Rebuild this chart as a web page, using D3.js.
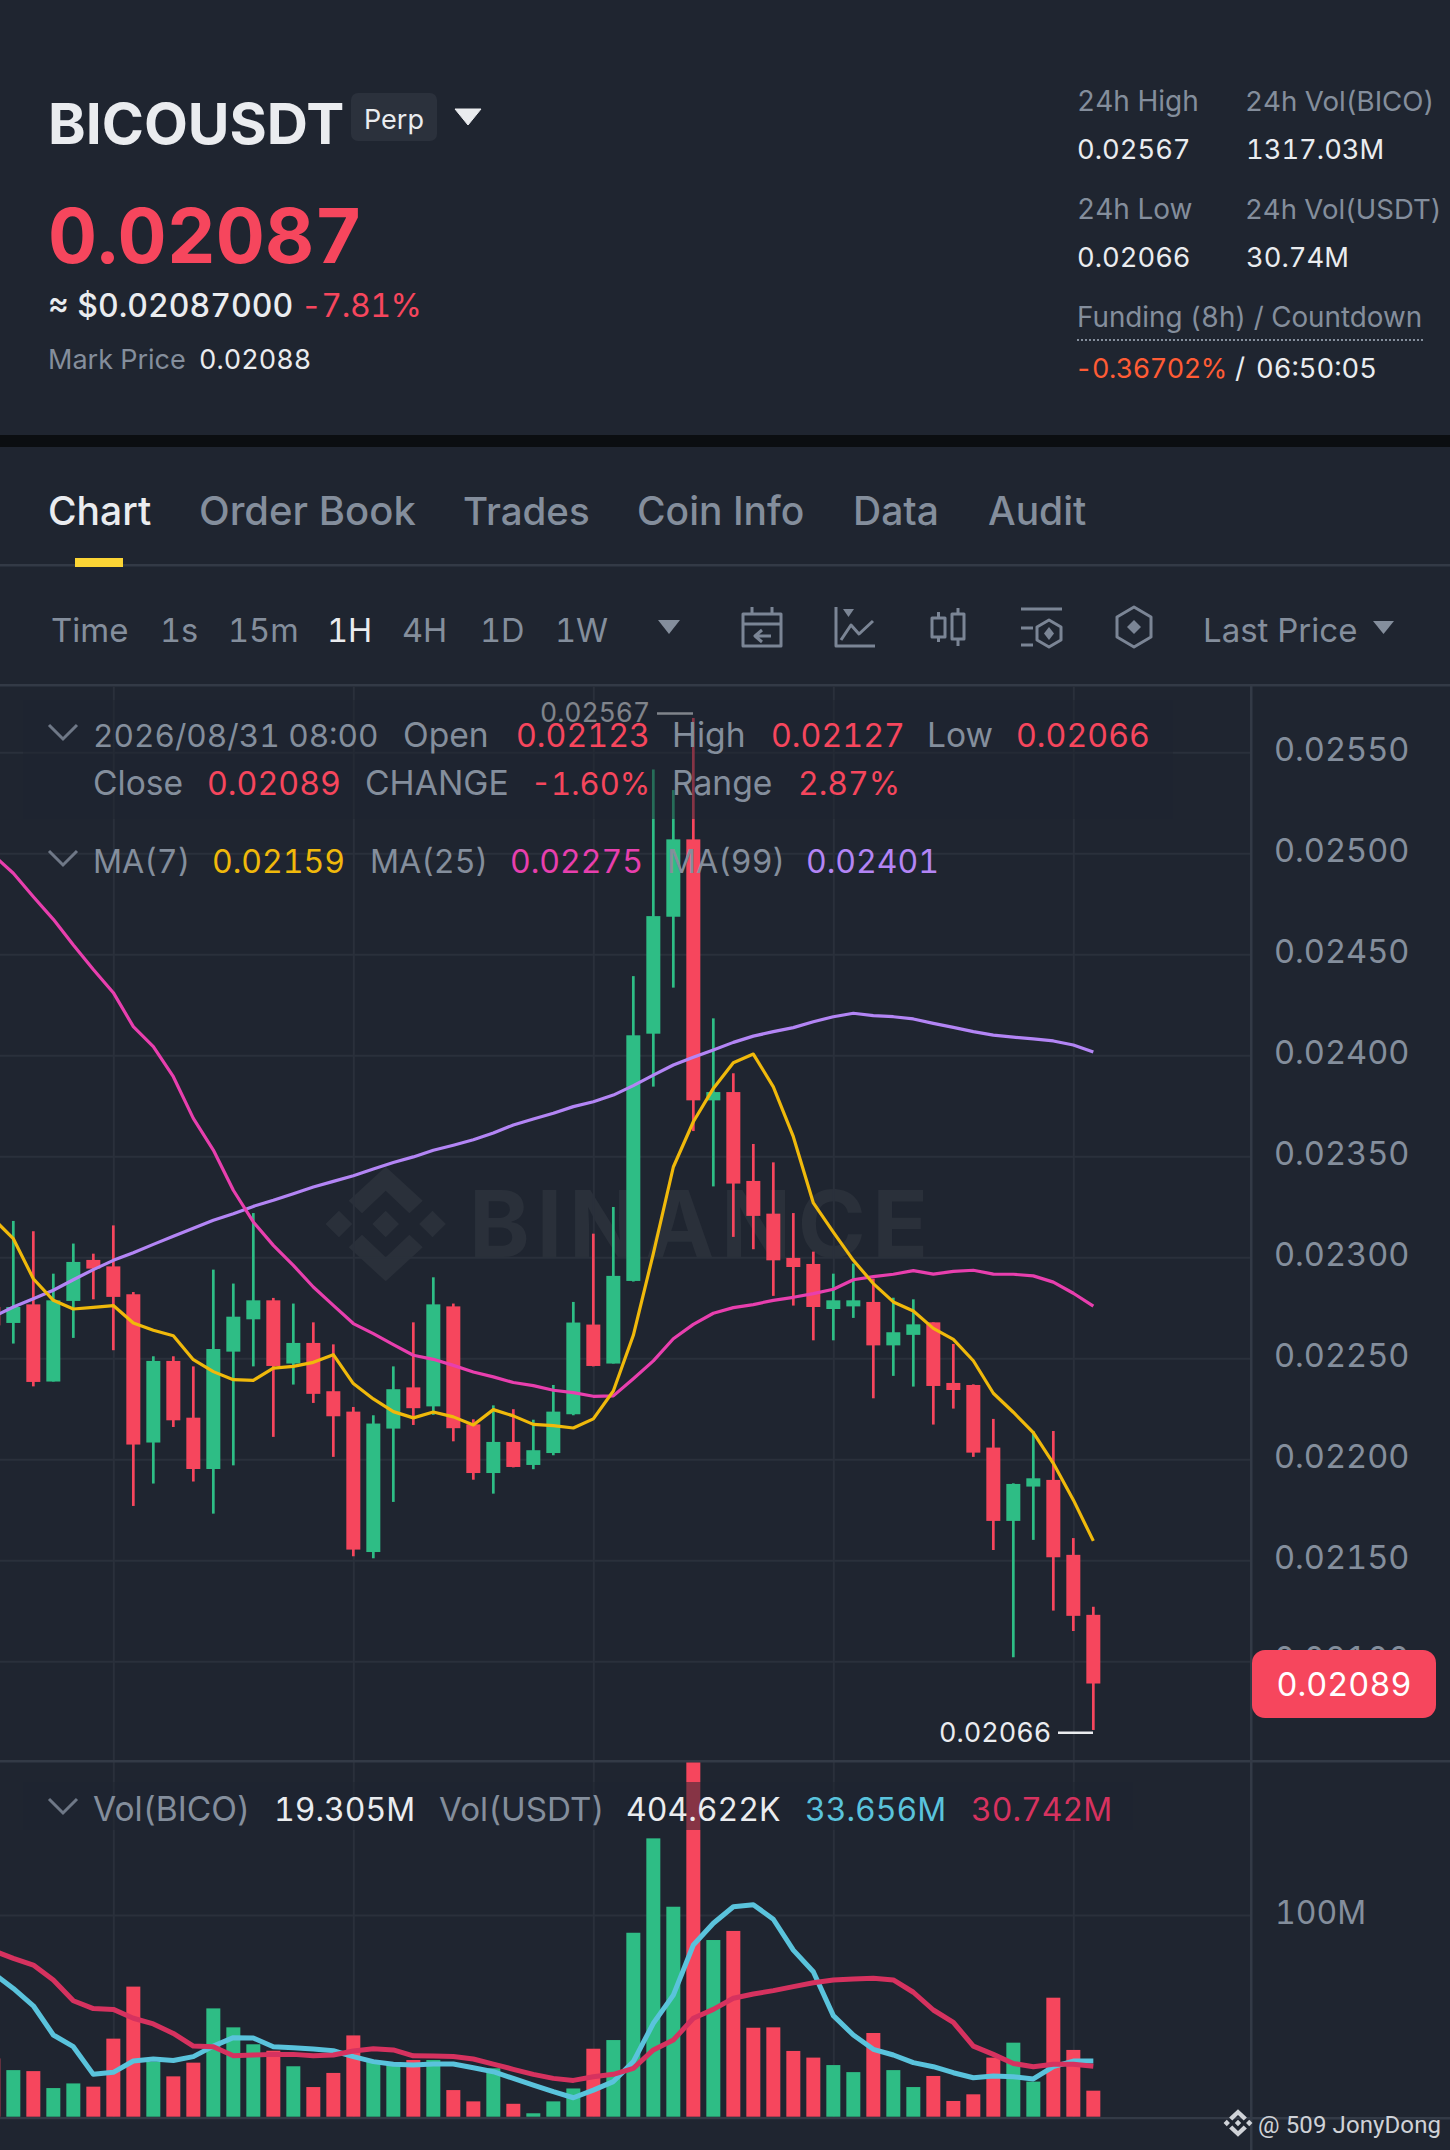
<!DOCTYPE html>
<html>
<head>
<meta charset="utf-8">
<title>BICOUSDT</title>
<script src="https://cdn.jsdelivr.net/npm/d3@7"></script>
<style>
  html, body { margin: 0; padding: 0; background: #1f2530; overflow: hidden; }
  svg { display: block; font-family: Inter, "Open Sans", sans-serif; font-variant-numeric: tabular-nums; }
</style>
</head>
<body>
<div id="chart"></div>
<script>
// candles, oldest first. the first one is cut off by the left edge of the picture
const opens = [0.022754,0.022675,0.022767,0.022385,0.022784,0.022987,0.022955,0.022817,0.022083,0.022487,0.022206,0.021952,0.022533,0.022693,0.022787,0.022474,0.022576,0.022337,0.022236,0.021541,0.022152,0.022356,0.022262,0.022757,0.022173,0.021932,0.022086,0.021972,0.022031,0.022223,0.022667,0.022474,0.022883,0.024107,0.024686,0.025069,0.023777,0.023818,0.023378,0.023216,0.022997,0.022967,0.022744,0.022757,0.022779,0.022564,0.022616,0.022678,0.022378,0.022368,0.022058,0.021695,0.021865,0.021898,0.021527,0.02123];
const highs = [0.022757,0.02318,0.023129,0.022919,0.023068,0.023018,0.023158,0.022828,0.02251,0.02251,0.02246,0.022939,0.02287,0.023219,0.022799,0.022771,0.022678,0.022569,0.022259,0.022218,0.02246,0.022678,0.022901,0.022771,0.022198,0.022267,0.022248,0.022196,0.022368,0.022779,0.023117,0.023249,0.024392,0.025415,0.025313,0.02567,0.024183,0.023911,0.023561,0.02347,0.023219,0.023028,0.022919,0.022969,0.022894,0.0228,0.022792,0.022678,0.022571,0.022371,0.0222,0.021881,0.02214,0.02214,0.02161,0.02127];
const lows = [0.02266,0.022573,0.022361,0.022385,0.022601,0.022792,0.02254,0.021769,0.02188,0.02216,0.02189,0.021731,0.02197,0.02246,0.022111,0.02237,0.022279,0.022012,0.02152,0.02151,0.021789,0.02217,0.02222,0.022089,0.021899,0.02183,0.02196,0.021951,0.02202,0.022218,0.02246,0.022474,0.02288,0.023845,0.024335,0.023625,0.023351,0.023101,0.02304,0.022809,0.022761,0.022589,0.022589,0.0227,0.022302,0.022413,0.02236,0.022172,0.022251,0.022012,0.021551,0.02102,0.021601,0.021251,0.02115,0.02066];
const closes = [0.022663,0.022754,0.022383,0.022787,0.022977,0.022944,0.022804,0.022073,0.022487,0.022193,0.021952,0.022546,0.022706,0.022787,0.022462,0.022576,0.022324,0.022213,0.021553,0.022177,0.022347,0.022253,0.022767,0.022154,0.021932,0.022086,0.021962,0.022045,0.022236,0.022677,0.022462,0.022908,0.024099,0.024689,0.025069,0.023777,0.023818,0.023365,0.023205,0.022985,0.022952,0.022754,0.022787,0.022787,0.022564,0.022629,0.022668,0.022363,0.022343,0.022033,0.021695,0.021878,0.021906,0.021515,0.021225,0.02089];

// moving averages
const ma7 = [0.023191,0.023092,0.022894,0.022787,0.022744,0.022752,0.022761,0.022675,0.022639,0.022612,0.022493,0.022434,0.022394,0.022391,0.022451,0.02246,0.02248,0.022518,0.022375,0.022299,0.022236,0.022205,0.022234,0.02221,0.02217,0.022246,0.022215,0.022173,0.022167,0.022155,0.0222,0.022338,0.022614,0.023018,0.023447,0.023671,0.023836,0.023963,0.024006,0.023844,0.023597,0.023269,0.023125,0.022985,0.02287,0.022779,0.022734,0.022648,0.022594,0.022488,0.022327,0.022233,0.022132,0.02198,0.021799,0.021596];
const ma25 = [0.024991,0.024901,0.024785,0.024673,0.024546,0.024425,0.02431,0.024142,0.024043,0.023894,0.023688,0.023531,0.023332,0.023175,0.023059,0.02296,0.022853,0.022762,0.022672,0.022622,0.022568,0.022515,0.022495,0.022465,0.022432,0.022408,0.02238,0.022365,0.022342,0.02233,0.022312,0.022314,0.022399,0.022487,0.022597,0.022668,0.022723,0.022751,0.022766,0.022787,0.022802,0.02282,0.022842,0.022889,0.022904,0.022916,0.022934,0.022917,0.02293,0.022936,0.022917,0.022916,0.022908,0.022877,0.022822,0.022758];
const ma99 = [0.022705,0.022754,0.022795,0.022837,0.022889,0.022939,0.022985,0.023023,0.023064,0.023104,0.023144,0.023183,0.023216,0.023252,0.023282,0.023315,0.023348,0.023376,0.023404,0.023437,0.023469,0.023497,0.02353,0.023555,0.023582,0.023615,0.023655,0.023685,0.023713,0.023746,0.02377,0.023803,0.02385,0.023902,0.023952,0.02399,0.024026,0.024064,0.024095,0.024117,0.024137,0.024166,0.024191,0.024208,0.024196,0.024191,0.02418,0.024158,0.024138,0.024117,0.0241,0.02409,0.024081,0.024071,0.024051,0.024016];

// volume in millions
const volumes = [28.9,23.1,22.6,14.2,16.5,14.9,38.7,64.5,27.3,20,26.8,53.7,44.3,35.9,32.7,25,14.7,21.7,40.3,27.3,25.6,28.1,28.1,13.2,7.6,24,6.4,1.7,7.6,14,33.7,38,91.2,138,104.1,176,87.6,92.1,44.1,44.3,32.6,29.3,25.6,22.1,41.5,23.1,14.7,20.2,7.8,11.1,29.3,36.7,17.4,59,33.1,12.9];
const volMaFast = [71.1,63.6,55,40.5,34.7,21,22,27.6,28.6,27.9,29.8,35,39.2,39,34.7,34.2,33.6,32.7,29.8,27.3,26,25.6,26.1,26.1,24.3,22.3,19,15.7,12.4,9.4,13.2,17.4,27.3,46.3,60.3,85.1,95.9,104.1,105.1,97.9,82.6,71.9,50.1,40.5,33.4,30.6,26.8,24.8,21.8,19.3,20.2,19.8,18.7,24.8,27.6,27.6];
const volMaSlow = [82.3,78.5,75.2,67.8,57.5,53.6,53.2,48.8,46,41.3,35,34.7,30.2,30.6,30.9,30.9,30.2,30.6,32.6,33.7,33.1,30.2,30.1,29.8,28.6,26.1,23.5,21,19,18,19.8,21,24,33.1,38,48.8,53.2,58.7,60.8,62.5,64.5,66.4,67.8,68.3,68.6,67.8,61.7,52.9,46.8,35,30.9,26.4,24.8,26,26,25];

// axis ticks
const priceTicks = [0.0255,0.025,0.0245,0.024,0.0235,0.023,0.0225,0.022,0.0215,0.021];
const volTicks = [100];
const timeGrid = [6,18,30,42,54]; // candle positions that carry a vertical line

const green = "#2ebd85", red = "#f6465d", grey = "#848e9c", white = "#eaecef";
const bg = "#1f2530", sep = "#333a46", gridCol = "#2a303b", mark = "#2a303a";
const yellow = "#f0b90b", pink = "#e83fae", purple = "#b385f5";
const volBlue = "#5ac3dc", volRed = "#d6325f";

const svg = d3.select("#chart").append("svg").attr("width", 1450).attr("height", 2150);
svg.append("rect").attr("width", 1450).attr("height", 2150).attr("fill", bg);

const x = d3.scaleLinear().domain([0, 55]).range([-6.67, 1093.33]);
const y = d3.scaleLinear().domain([0.023, 0.0215]).range([1257.3, 1560.3]);
const yVol = d3.scaleLinear().domain([0, 100]).range([2116.7, 1915]);
const idx = d3.range(opens.length);

function label(px, py, str, size, col, weight, anchor) {
  return svg.append("text").attr("x", px).attr("y", py).text(str)
    .attr("font-size", size).attr("fill", col)
    .attr("font-weight", weight || 400)
    .attr("text-anchor", anchor || "start");
}

// black bar between the header and the chart card
svg.append("rect").attr("y", 435).attr("width", 1450).attr("height", 12).attr("fill", "#0b0e11");

// header
label(48, 144, "BICOUSDT", 57, white, 700);
svg.append("rect").attr("x", 351).attr("y", 93).attr("width", 86).attr("height", 48).attr("rx", 7).attr("fill", "#2b313c");
label(394, 129, "Perp", 27, white, 400, "middle");
svg.append("path").attr("d", "M455,109H481L468,125Z").attr("fill", white).attr("stroke", white).attr("stroke-width", 1).attr("stroke-linejoin", "round");
label(48, 263, "0.02087", 76, red, 700);
label(48, 317, "≈ $0.02087000", 32, white, 500);
label(301, 317, "-7.81%", 32, red, 400).attr("letter-spacing", -0.4);
label(48, 369, "Mark Price", 27, grey, 400);
label(199, 369, "0.02088", 27, white, 400);

label(1077, 111, "24h High", 28, grey);
label(1245, 111, "24h Vol(BICO)", 27.7, grey);
label(1077, 159, "0.02567", 27.3, white);
label(1246, 159, "1317.03M", 27.3, white);
label(1077, 219, "24h Low", 28, grey);
label(1245, 219, "24h Vol(USDT)", 27.5, grey);
label(1077, 267, "0.02066", 27.3, white);
label(1246, 267, "30.74M", 27.3, white);
label(1077, 327, "Funding (8h) / Countdown", 27.8, grey);
svg.append("line").attr("x1", 1077).attr("x2", 1423).attr("y1", 340).attr("y2", 340)
  .attr("stroke", grey).attr("stroke-width", 2).attr("stroke-dasharray", "2 2");
label(1075, 378, "-0.36702%", 27, "#ff5c35").attr("letter-spacing", -0.5);
label(1235, 378, "/", 28, white);
label(1256, 378, "06:50:05", 27.3, white);

// tabs
label(48, 525, "Chart", 39, white, 500);
label(199, 525, "Order Book", 40, grey, 500);
label(463, 525, "Trades", 38.5, grey, 500);
label(637, 525, "Coin Info", 39, grey, 500);
label(853, 525, "Data", 39, grey, 500);
label(988, 525, "Audit", 39, grey, 500);
svg.append("rect").attr("y", 564).attr("width", 1450).attr("height", 2.5).attr("fill", sep);
svg.append("rect").attr("x", 75).attr("y", 558).attr("width", 48).attr("height", 9).attr("fill", "#fcd535");

// toolbar
label(51, 642, "Time", 33, grey);
label(160, 642, "1s", 32.5, grey);
label(228, 642, "15m", 32.5, grey);
label(327, 642, "1H", 32.5, white);
label(402, 642, "4H", 32.5, grey);
label(480, 642, "1D", 32.5, grey);
label(555, 642, "1W", 32.5, grey);
svg.append("path").attr("d", "M658,620H680L669,634Z").attr("fill", grey);
label(1203, 642, "Last Price", 33, grey);
svg.append("path").attr("d", "M1373,621H1394L1383.5,634Z").attr("fill", grey);

const icons = svg.append("g").attr("fill", "none").attr("stroke", "#7b8595").attr("stroke-width", 3).attr("stroke-linejoin", "round");
// calendar
icons.append("path").attr("d", "M743,614H781V646H743ZM743,624H781M752,607V614M772,607V614M771,636H756M762,630L755,636L762,642");
// line chart
icons.append("path").attr("d", "M836,607V646H875M841,640L851,625L859,634L873,621");
icons.append("path").attr("d", "M843,609H854L848.5,617Z").attr("fill", "#7b8595").attr("stroke", "none");
// candles
icons.append("path").attr("d", "M932,618H945V637H932ZM938.5,612V618M938.5,637V642M952,614H964V639H952ZM958,608V614M958,639V646");
// list with hexagon
icons.append("path").attr("d", "M1021,609H1062M1021,628H1033M1021,645H1033M1049,620L1061,627V640L1049,647L1037,640V627Z");
icons.append("path").attr("d", "M1049,627L1054,633.5L1049,640L1044,633.5Z").attr("fill", "#7b8595").attr("stroke", "none");
// hexagon
icons.append("path").attr("d", "M1134,607L1151,617V637L1134,647L1117,637V617Z");
icons.append("path").attr("d", "M1134,620L1141,627L1134,634L1127,627Z").attr("fill", "#7b8595").attr("stroke", "none");

svg.append("rect").attr("y", 684).attr("width", 1450).attr("height", 2.5).attr("fill", sep);

// five diamond logo, used for the big and the small watermark
function logo(cx, cy, k, col) {
  const g = svg.append("g").attr("transform", `translate(${cx},${cy}) scale(${k})`).attr("fill", col);
  const diamond = (dx) => `M${dx},-13.3L${dx + 13.3},0L${dx},13.3L${dx - 13.3},0Z`;
  g.append("path").attr("d", diamond(0) + diamond(-46.8) + diamond(46.8));
  g.append("path").attr("d", "M0,-57.3L37,-23.3L23.7,-10.7L0,-33.3L-23.7,-10.7L-37,-23.3Z");
  g.append("path").attr("d", "M0,57.3L37,23.3L23.7,10.7L0,33.3L-23.7,10.7L-37,23.3Z");
}

// grid and axis labels
logo(385.7, 1224, 1, mark);
label(469, 1257, "BINANCE", 92, mark, 700).attr("letter-spacing", 6.6);

const priceAxis = d3.axisRight(y).tickValues(priceTicks).tickFormat(d3.format(".5f")).tickSize(1250).tickPadding(24);
const gPrice = svg.append("g").call(priceAxis);
gPrice.select(".domain").remove();
gPrice.selectAll("line").attr("stroke", gridCol).attr("stroke-width", 2);
gPrice.selectAll("text").attr("fill", grey).attr("font-size", 32.6).attr("font-family", "Inter").attr("dy", 8);

const volAxis = d3.axisRight(yVol).tickValues(volTicks).tickFormat(d => d + "M").tickSize(1250).tickPadding(25);
const gVol = svg.append("g").call(volAxis);
gVol.select(".domain").remove();
gVol.selectAll("line").attr("stroke", gridCol).attr("stroke-width", 2);
gVol.selectAll("text").attr("fill", grey).attr("font-size", 32).attr("font-family", "Inter").attr("dy", 8);

const timeAxis = d3.axisBottom(x).tickValues(timeGrid).tickFormat("").tickSize(1431);
const gTime = svg.append("g").attr("transform", "translate(0,686)").call(timeAxis);
gTime.select(".domain").remove();
gTime.selectAll("line").attr("stroke", gridCol).attr("stroke-width", 2);

// panel frame
svg.append("rect").attr("y", 1760).attr("width", 1450).attr("height", 2.5).attr("fill", sep);
svg.append("rect").attr("y", 2117).attr("width", 1450).attr("height", 2.5).attr("fill", sep);
svg.append("rect").attr("x", 1250).attr("y", 686).attr("width", 2.5).attr("height", 1464).attr("fill", sep);
svg.append("rect").attr("y", 2119.5).attr("width", 1250).attr("height", 30.5).attr("fill", bg);

svg.append("clipPath").attr("id", "volClip").append("rect").attr("x", 0).attr("y", 1762.5).attr("width", 1250).attr("height", 354.5);

// candles
const isUp = i => closes[i] >= opens[i];
const candles = svg.append("g");
candles.selectAll(".wick").data(idx).join("rect").attr("class", "wick")
  .attr("x", i => x(i) - 1.35).attr("width", 2.7)
  .attr("y", i => y(highs[i])).attr("height", i => y(lows[i]) - y(highs[i]))
  .attr("fill", i => isUp(i) ? green : red);
candles.selectAll(".body").data(idx).join("rect").attr("class", "body")
  .attr("x", i => x(i) - 7).attr("width", 14)
  .attr("y", i => y(Math.max(opens[i], closes[i])))
  .attr("height", i => Math.abs(y(opens[i]) - y(closes[i])))
  .attr("fill", i => isUp(i) ? green : red);

// high and low markers
label(540, 722, "0.02567", 26.5, white);
svg.append("line").attr("x1", 657).attr("x2", 693).attr("y1", 713.5).attr("y2", 713.5).attr("stroke", white).attr("stroke-width", 2.5);
label(939, 1742, "0.02066", 27, white);
svg.append("line").attr("x1", 1058).attr("x2", 1093).attr("y1", 1732.7).attr("y2", 1732.7).attr("stroke", white).attr("stroke-width", 2.5);

// price moving averages
const priceLine = d3.line().x((d, i) => x(i)).y(d => y(d));
[[ma99, purple], [ma25, pink], [ma7, yellow]].forEach(s => {
  svg.append("path").attr("d", priceLine(s[0])).attr("fill", "none")
    .attr("stroke", s[1]).attr("stroke-width", 3.2).attr("stroke-linejoin", "round");
});

// volume
const volG = svg.append("g").attr("clip-path", "url(#volClip)");
volG.selectAll("rect").data(idx).join("rect")
  .attr("x", i => x(i) - 7).attr("width", 14)
  .attr("y", i => yVol(volumes[i])).attr("height", i => yVol(0) - yVol(volumes[i]))
  .attr("fill", i => isUp(i) ? green : red);
const volLine = d3.line().x((d, i) => x(i)).y(d => yVol(d));
[[volMaFast, volBlue], [volMaSlow, volRed]].forEach(s => {
  volG.append("path").attr("d", volLine(s[0])).attr("fill", "none")
    .attr("stroke", s[1]).attr("stroke-width", 5).attr("stroke-linejoin", "round");
});

// legends sit on a see-through plate, it dims what is under them
svg.append("rect").attr("x", 23).attr("y", 700).attr("width", 1150).attr("height", 119).attr("fill", bg).attr("opacity", 0.52);
svg.append("rect").attr("x", 23).attr("y", 1782).attr("width", 1110).attr("height", 48).attr("fill", bg).attr("opacity", 0.52);

const chevron = (cx, top) => svg.append("path")
  .attr("d", `M${cx - 14},${top}L${cx},${top + 14}L${cx + 14},${top}`)
  .attr("fill", "none").attr("stroke", "#6f7887").attr("stroke-width", 3);
chevron(63, 725);
chevron(63, 851);
chevron(63, 1799);

label(93, 747, "2026/08/31 08:00", 31.6, grey);
label(403, 747, "Open", 33.6, grey);
label(516, 747, "0.02123", 32.2, red);
label(672, 747, "High", 33.6, grey);
label(771, 747, "0.02127", 32.2, red);
label(927, 747, "Low", 33.6, grey);
label(1016, 747, "0.02066", 32.2, red);

label(93, 795, "Close", 33.6, grey);
label(207, 795, "0.02089", 32.2, red);
label(365, 795, "CHANGE", 33.7, grey);
label(531, 795, "-1.60%", 31, red);
label(672, 795, "Range", 33.6, grey);
label(798, 795, "2.87%", 32, red);

label(93, 873, "MA(7)", 32.2, grey);
label(212, 873, "0.02159", 32, yellow);
label(370, 873, "MA(25)", 32.2, grey);
label(510, 873, "0.02275", 32, pink);
label(667, 873, "MA(99)", 32.2, grey);
label(806, 873, "0.02401", 32, purple);

label(93, 1821, "Vol(BICO)", 33.6, grey);
label(274, 1821, "19.305M", 32, white);
label(439, 1821, "Vol(USDT)", 33.2, grey);
label(626, 1821, "404.622K", 32, white);
label(805, 1821, "33.656M", 32, volBlue);
label(971, 1821, "30.742M", 32, volRed);

// last price tag covers the 0.02100 label
svg.append("rect").attr("x", 1252).attr("y", 1650).attr("width", 184).attr("height", 68).attr("rx", 13).attr("fill", red);
label(1344, 1696, "0.02089", 32.5, "#ffffff", 400, "middle");

// user stamp, bottom right
logo(1238, 2123, 0.24, "#cfd2d7");
label(1258, 2133, "@ 509 JonyDong", 24, "#cfd2d7").attr("font-family", "Roboto").attr("textLength", 183);
</script>
</body>
</html>
